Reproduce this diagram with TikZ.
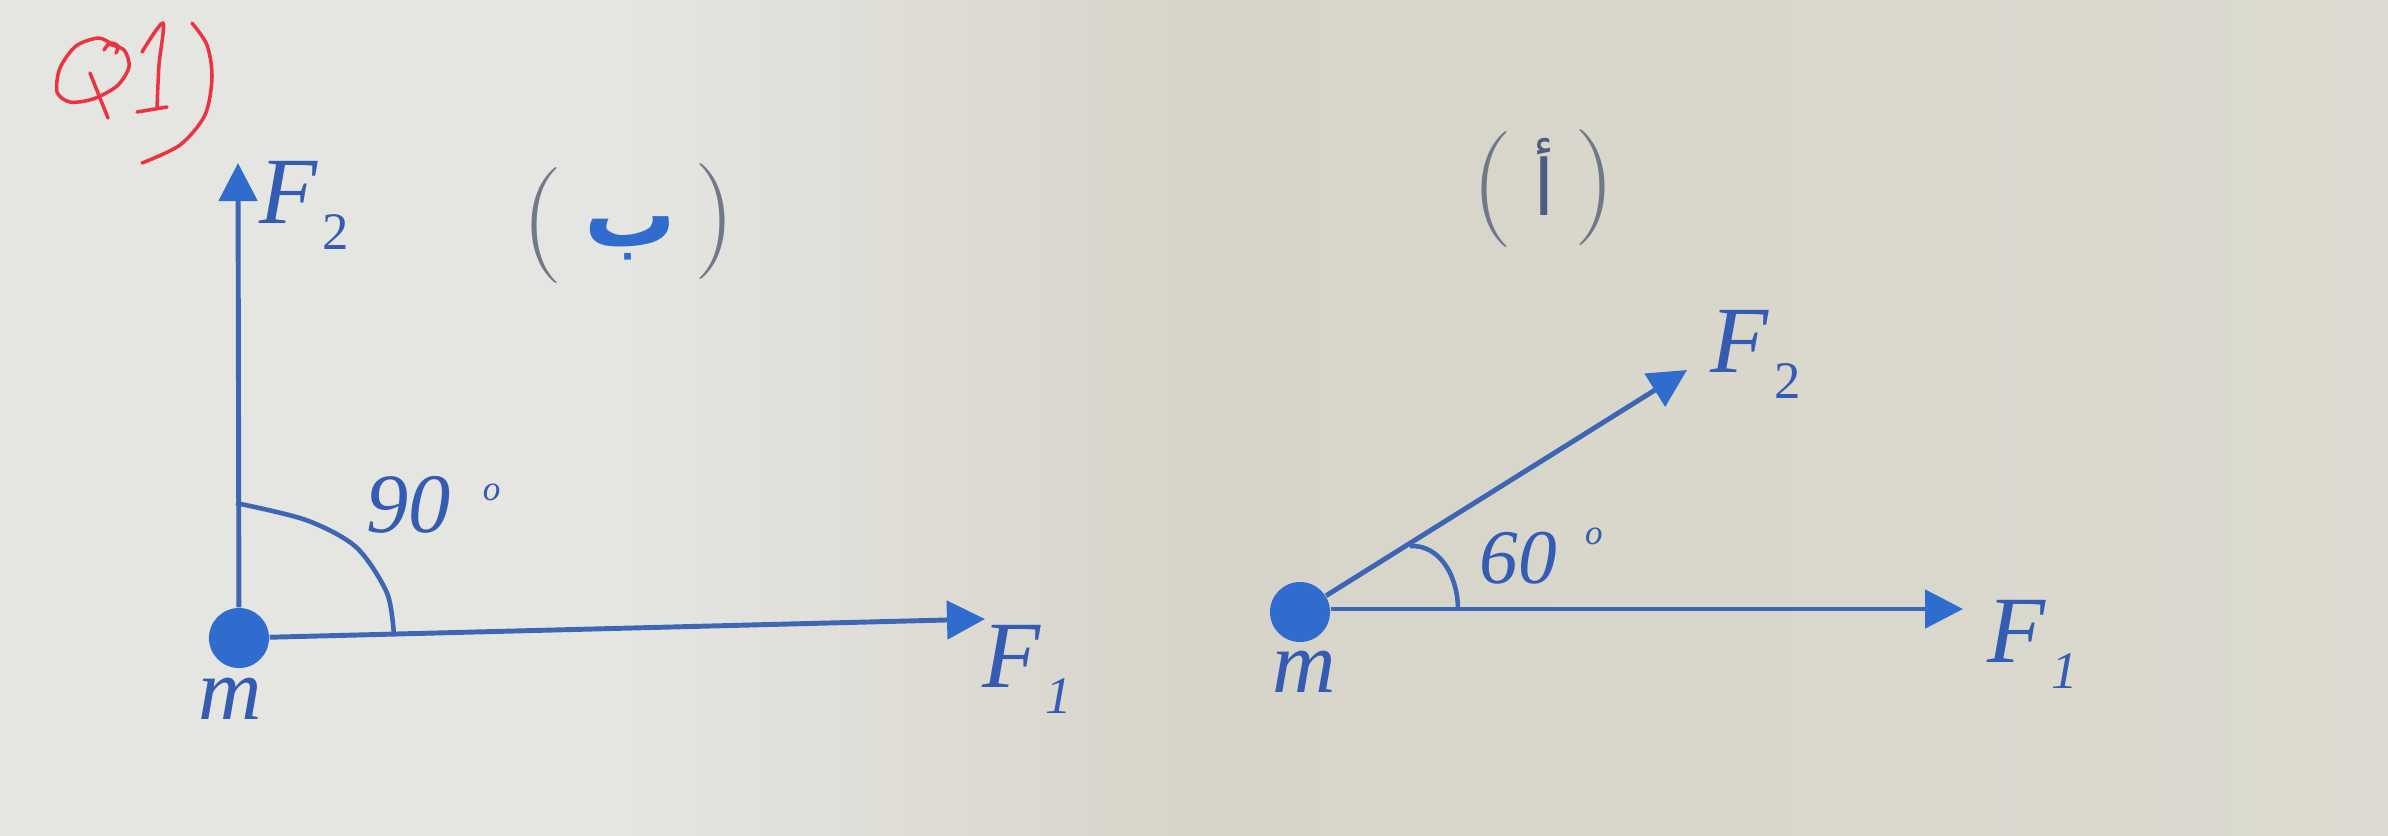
\documentclass[tikz,border=0pt]{standalone}
\usepackage{fontspec}
\newfontfamily\tnr{Liberation Serif}
\newfontfamily\arabicfont[Script=Arabic]{DejaVu Sans}
\usetikzlibrary{arrows.meta}
\definecolor{p1}{RGB}{229,229,226}
\definecolor{p2}{RGB}{215,212,201}
\definecolor{p3}{RGB}{218,216,205}
\definecolor{p4}{RGB}{225,224,215}
\definecolor{ink}{RGB}{48,108,205}
\definecolor{inkline}{RGB}{62,102,180}
\definecolor{txt}{RGB}{52,92,178}
\definecolor{paren}{RGB}{112,120,138}
\definecolor{alefc}{RGB}{78,92,130}
\definecolor{pen}{RGB}{236,52,64}
\pgfdeclarehorizontalshading{paper}{100bp}{color(0bp)=(p1); color(38bp)=(p1); color(50bp)=(p2); color(65bp)=(p3); color(100bp)=(p4)}
\newcommand{\flab}[2]{F\hspace{1.5pt}\raisebox{-7.5pt}{\fontsize{15}{15}\selectfont #2}}
\begin{document}
\begin{tikzpicture}[x=0.01cm,y=-0.01cm,
  mass/.style={circle,fill=ink,minimum size=0.6cm,inner sep=0pt},
  force/.style={draw=inkline,line width=1.4pt,-{Triangle[length=0.38cm,width=0.38cm,color=ink]}},
  anglearc/.style={draw=inkline,line width=1.3pt},
  lab/.style={inner sep=0pt,anchor=base west,text=txt,font=\tnr\itshape\fontsize{27}{30}\selectfont},
  mlab/.style={inner sep=0pt,anchor=base west,text=txt,font=\tnr\itshape\fontsize{25}{28}\selectfont},
  deg/.style={inner sep=0pt,anchor=base west,text=txt,font=\tnr\itshape\fontsize{24}{28}\selectfont},
  par/.style={inner sep=0pt,text=paren,font=\fontsize{33}{36}\selectfont},
  pen/.style={draw=pen,line width=1pt,line cap=round,line join=round}]
\useasboundingbox (0,0) rectangle (2388,835);
\shade[shading=paper] (0,0) rectangle (2388,835);

% handwritten Q1)
\draw[pen] plot[smooth] coordinates {(104,50) (110,43) (118,46) (116,53)};
\draw[pen] plot[smooth] coordinates {(110,43) (98,38) (76,46) (60,68) (57,92) (70,102) (93,99) (117,86) (129,67) (124,50) (108,44)};
\draw[pen] (90,73) -- (108,118);
\draw[pen] plot[smooth] coordinates {(142,52) (163,23) (159,65) (157,108)};
\draw[pen] (137,112) -- (167,107);
\draw[pen] plot[smooth] coordinates {(192,23) (207,45) (212,77) (205,115) (180,145) (142,163)};

% ---- figure (b) ----
\node[mass] (mB) at (239,638) {};
\coordinate (B2) at (238,163);
\coordinate (B1) at (985,619);
\draw[force] (mB) -- (B2);
\draw[force] (mB) -- (B1);
\draw[anglearc] plot[smooth] coordinates {(236,503) (306,520) (356,547) (387,593) (394,636)};
\node[lab] (lB2) at (259,223) {\flab{F}{\upshape 2}};
\node[lab] (lB1) at (982,687) {\flab{F}{1}};
\node[mlab] (lmB) at (198,719) {m};
\node[deg] (dB) at (366,532) {90\hspace{9pt}\raisebox{9pt}{\fontsize{10}{10}\selectfont o}};
\node[par] (pBl) at (542,226) {(};
\node[inner sep=0pt,text=ink,font=\arabicfont\bfseries\fontsize{26}{30}\selectfont] (lB) at (630,238) {ب};
\node[par] (pBr) at (715,222) {)};

% ---- figure (a) ----
\node[mass] (mA) at (1300,612) {};
\coordinate (A2) at (1687,370);
\coordinate (A1) at (1963,609);
\draw[force] (mA) -- (A2);
\draw[force] (mA.east |- A1) -- (A1);
\draw[anglearc] (1410,546) to[out=3,in=90] (1458,609);
\node[lab] (lA2) at (1710,372) {\flab{F}{\upshape 2}};
\node[lab] (lA1) at (1987,662) {\flab{F}{1}};
\node[mlab] (lmA) at (1272,692) {m};
\node[deg,font=\tnr\itshape\fontsize{22}{26}\selectfont] (dA) at (1479,583) {60\hspace{8pt}\raisebox{11pt}{\fontsize{10}{10}\selectfont o}};
\node[par] (pAl) at (1492,190) {(};
\node[inner sep=0pt,text=alefc,font=\arabicfont\fontsize{22}{26}\selectfont] (lA) at (1544,177) {أ};
\node[par] (pAr) at (1595,188) {)};
\end{tikzpicture}
\end{document}
